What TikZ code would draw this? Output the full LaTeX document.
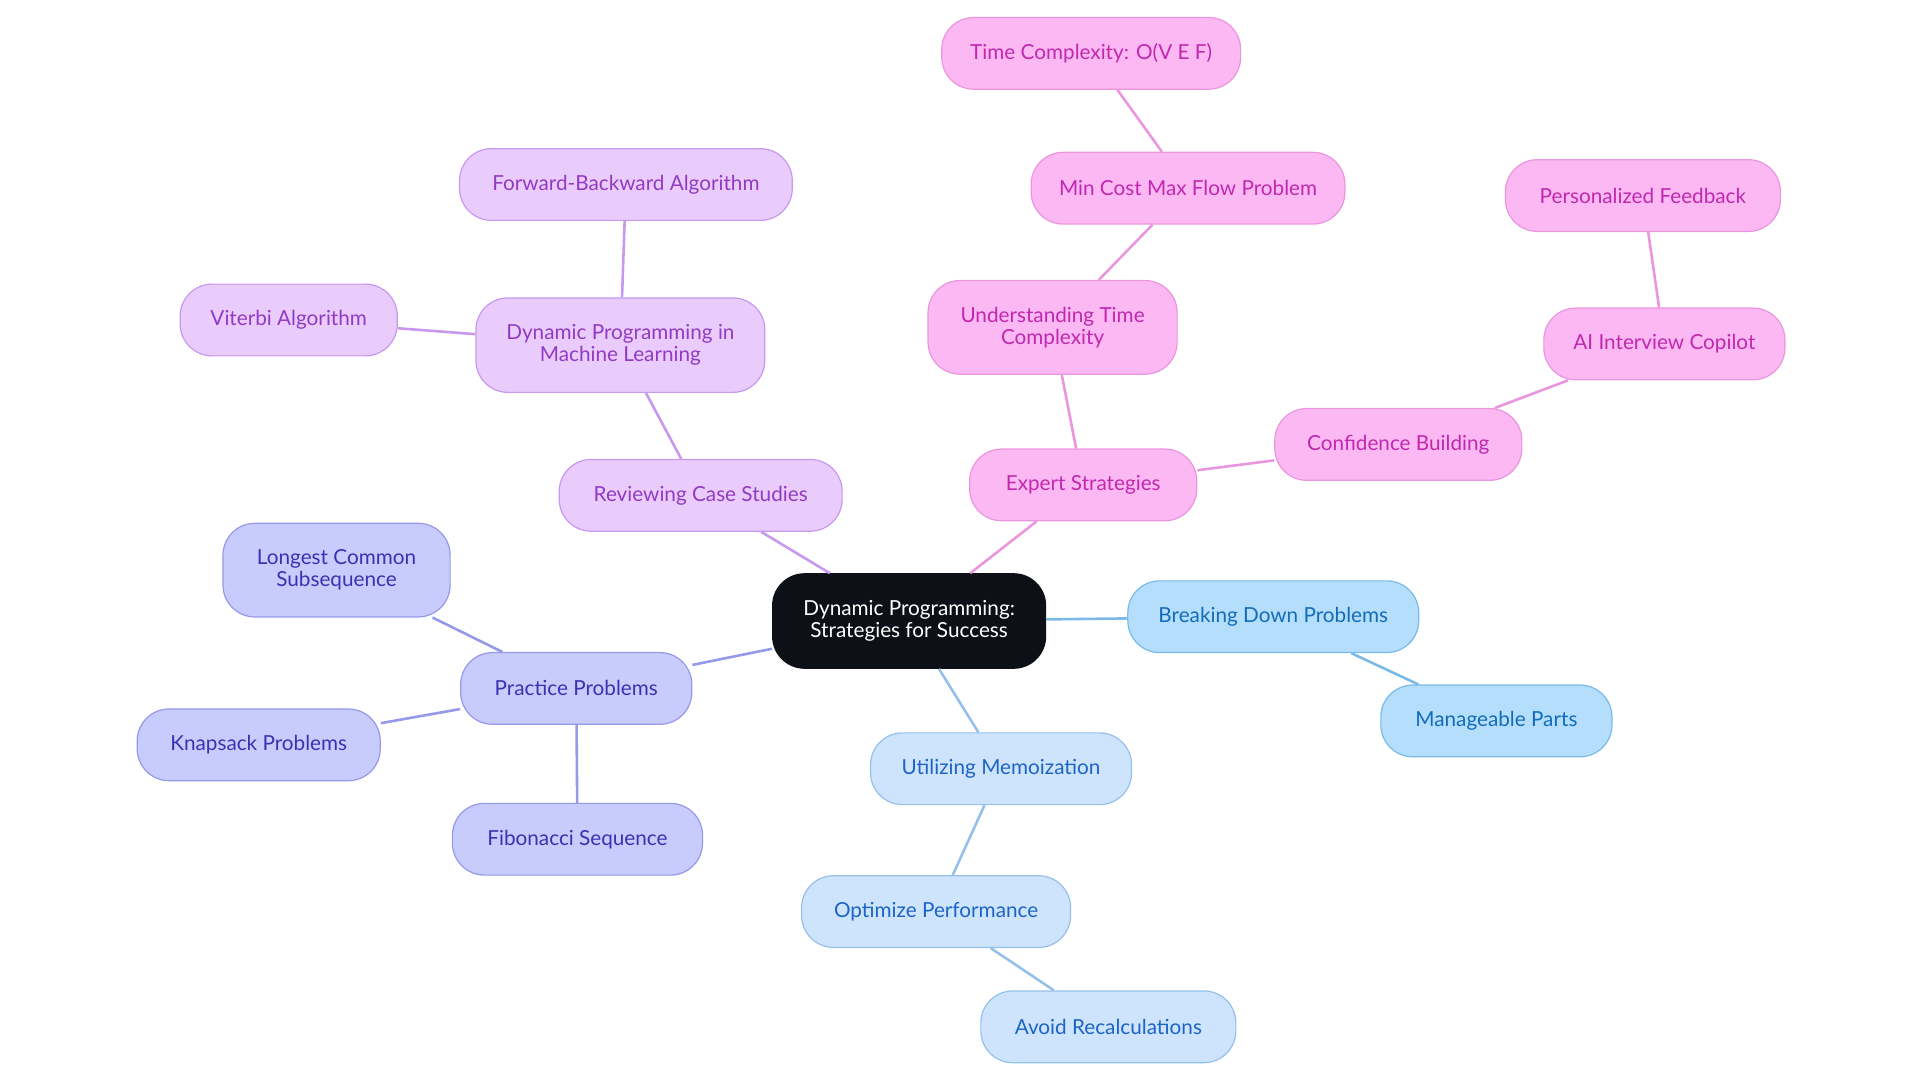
\documentclass[tikz,border=0pt]{standalone}
\usepackage{fontspec}
\setmainfont{Lato}
\usetikzlibrary{shapes}
\definecolor{dp_black}{RGB}{13,17,23}
\definecolor{dp_purple}{RGB}{233,204,252}
\definecolor{dp_purple_line}{RGB}{200,152,240}
\definecolor{dp_purple_text}{RGB}{146,58,196}
\definecolor{dp_indigo}{RGB}{200,204,252}
\definecolor{dp_indigo_line}{RGB}{150,152,234}
\definecolor{dp_indigo_text}{RGB}{58,50,178}
\definecolor{dp_pink}{RGB}{252,184,242}
\definecolor{dp_pink_line}{RGB}{234,150,222}
\definecolor{dp_pink_text}{RGB}{192,40,176}
\definecolor{dp_sky}{RGB}{180,222,252}
\definecolor{dp_sky_line}{RGB}{122,186,232}
\definecolor{dp_sky_text}{RGB}{18,108,186}
\definecolor{dp_pale}{RGB}{206,228,252}
\definecolor{dp_pale_line}{RGB}{150,192,236}
\definecolor{dp_pale_text}{RGB}{28,100,198}
\tikzstyle{base}=[rounded corners=16pt,line width=0.6pt,inner sep=3pt,
  align=center,font=\fontsize{10.4}{11}\selectfont,minimum height=36pt]
\tikzstyle{root}=[base,fill=dp_black,draw=dp_black,text=white,minimum height=47.4pt]
\tikzstyle{pn}=[base,fill=dp_purple,draw=dp_purple_line,text=dp_purple_text]
\tikzstyle{ino}=[base,fill=dp_indigo,draw=dp_indigo_line,text=dp_indigo_text]
\tikzstyle{kn}=[base,fill=dp_pink,draw=dp_pink_line,text=dp_pink_text]
\tikzstyle{sn}=[base,fill=dp_sky,draw=dp_sky_line,text=dp_sky_text]
\tikzstyle{bn}=[base,fill=dp_pale,draw=dp_pale_line,text=dp_pale_text]
\tikzstyle{pe}=[draw=dp_purple_line,line width=1.3pt]
\tikzstyle{ie}=[draw=dp_indigo_line,line width=1.3pt]
\tikzstyle{ke}=[draw=dp_pink_line,line width=1.3pt]
\tikzstyle{se}=[draw=dp_sky_line,line width=1.3pt]
\tikzstyle{be}=[draw=dp_pale_line,line width=1.3pt]
\begin{document}
\begin{tikzpicture}[x=0.6154pt,y=-0.6154pt]
    \useasboundingbox (0,0) rectangle (1566,883);
    \node [style=root,minimum width=137pt] (root) at (741.5,506.5) {Dynamic Programming:\\Strategies for Success};
    % purple branch
    \node [style=pn,minimum width=142pt] (review) at (571.5,404) {Reviewing Case Studies};
    \node [style=pn,minimum width=145pt,minimum height=47.4pt] (dpml) at (506,281.5) {Dynamic Programming in\\Machine Learning};
    \node [style=pn,minimum width=167pt] (fwbw) at (510.5,150.5) {Forward-Backward Algorithm};
    \node [style=pn,minimum width=109pt] (viterbi) at (235.5,261) {Viterbi Algorithm};
    % indigo branch
    \node [style=ino,minimum width=116pt] (practice) at (470,561.5) {Practice Problems};
    \node [style=ino,minimum width=114pt,minimum height=47pt] (lcs) at (274.5,465) {Longest Common\\Subsequence};
    \node [style=ino,minimum width=122pt] (knap) at (211,607.5) {Knapsack Problems};
    \node [style=ino,minimum width=125.5pt] (fib) at (471,684.5) {Fibonacci Sequence};
    % pink branch
    \node [style=kn,minimum width=114pt] (expert) at (883.5,395.5) {Expert Strategies};
    \node [style=kn,minimum width=125pt,minimum height=47pt] (utc) at (858.5,267) {Understanding Time\\Complexity};
    \node [style=kn,minimum width=157.5pt] (mcmf) at (969,153.5) {Min Cost Max Flow Problem};
    \node [style=kn,minimum width=150pt] (tc) at (890,43.5) {Time Complexity: O(V E F)};
    \node [style=kn,minimum width=124pt] (conf) at (1140.5,362.5) {Confidence Building};
    \node [style=kn,minimum width=121pt] (copilot) at (1357.5,280.5) {AI Interview Copilot};
    \node [style=kn,minimum width=138pt] (feedback) at (1340,159.5) {Personalized Feedback};
    % sky branch
    \node [style=sn,minimum width=146pt] (breaking) at (1038.5,503) {Breaking Down Problems};
    \node [style=sn,minimum width=116pt] (parts) at (1220.5,588) {Manageable Parts};
    % pale blue branch
    \node [style=bn,minimum width=131pt] (memo) at (816.5,627) {Utilizing Memoization};
    \node [style=bn,minimum width=135pt] (perf) at (763.5,743.5) {Optimize Performance};
    \node [style=bn,minimum width=128pt] (avoid) at (904,837.5) {Avoid Recalculations};
    % connectors
    \draw [style=pe] (root) to (review);
    \draw [style=pe] (review) to (dpml);
    \draw [style=pe] (dpml) to (fwbw);
    \draw [style=pe] (dpml) to (viterbi);
    \draw [style=ie] (root) to (practice);
    \draw [style=ie] (practice) to (lcs);
    \draw [style=ie] (practice) to (knap);
    \draw [style=ie] (practice) to (fib);
    \draw [style=ke] (root) to (expert);
    \draw [style=ke] (expert) to (utc);
    \draw [style=ke] (utc) to (mcmf);
    \draw [style=ke] (mcmf) to (tc);
    \draw [style=ke] (expert) to (conf);
    \draw [style=ke] (conf) to (copilot);
    \draw [style=ke] (copilot) to (feedback);
    \draw [style=se] (root) to (breaking);
    \draw [style=se] (breaking) to (parts);
    \draw [style=be] (root) to (memo);
    \draw [style=be] (memo) to (perf);
    \draw [style=be] (perf) to (avoid);
  \end{tikzpicture}
\end{document}
